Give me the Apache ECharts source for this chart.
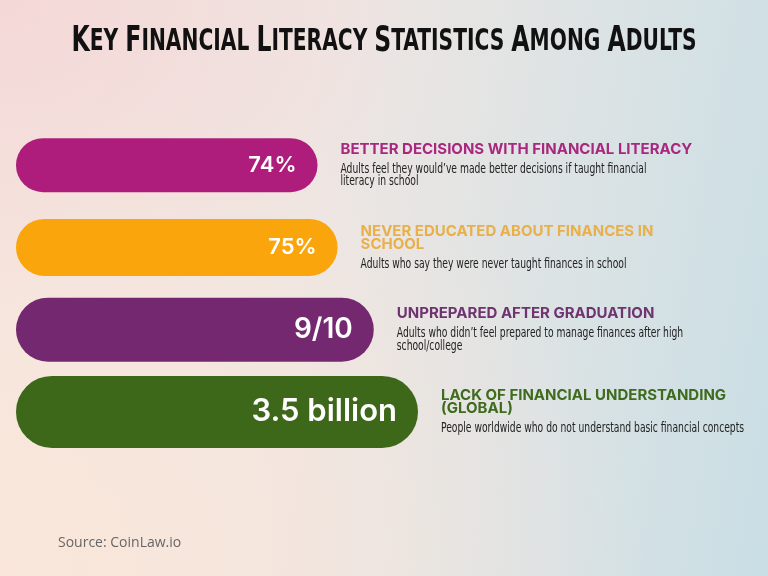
<!DOCTYPE html>
<html><head><meta charset="utf-8">
<script src="https://cdn.jsdelivr.net/npm/echarts@6/dist/echarts.min.js"></script>
<style>
html,body{margin:0;padding:0;}
#c{width:768px;height:576px;background:
 radial-gradient(ellipse at 0% 0%, rgba(243,214,214,0.9) 0%, rgba(243,214,214,0) 40%),
 radial-gradient(ellipse at 0% 100%, rgba(250,230,218,1) 0%, rgba(250,230,218,0) 60%),
 linear-gradient(100deg, #F6E6E0 0%, #EEE6E3 40%, #DDE3E4 68%, #C9DEE5 100%);}
</style></head><body><div id="c"></div>
<script>
const categories = ['Better decisions', 'Never educated', 'Unprepared', 'Lack of understanding'];
const barIndex = [75, 80, 89, 100];
const valueLabels = ['74%', '75%', '9/10', '3.5 billion'];
const headings = ['BETTER DECISIONS WITH FINANCIAL LITERACY', 'NEVER EDUCATED ABOUT FINANCES IN\nSCHOOL', 'UNPREPARED AFTER GRADUATION', 'LACK OF FINANCIAL UNDERSTANDING\n(GLOBAL)'];
const descriptions = ['Adults feel they would\u2019ve made better decisions if taught financial\nliteracy in school', 'Adults who say they were never taught finances in school', 'Adults who didn\u2019t feel prepared to manage finances after high\nschool/college', 'People worldwide who do not understand basic financial concepts'];
const titleText = 'Key Financial Literacy Statistics Among Adults';
const sourceText = 'Source: CoinLaw.io';

const barColors = ['#AE1D7B', '#F9A50B', '#732870', '#3D6719'];
const headColors = ['#A8287F', '#E9B04A', '#6E3470', '#3F6B1E'];
const barHeights = [54, 57, 64, 72];
const labelSizes = [22, 22, 28, 31];
const condFont = '"DejaVu Sans Condensed", "DejaVu Sans", sans-serif';
const headFont = 'Inter, "Noto Sans", sans-serif';

// title as small caps, horizontally compressed to look condensed
const titleWords = titleText.split(' ');
const titleRich = titleWords.map(w => '{b|' + w[0].toUpperCase() + '}{s|' + w.slice(1).toUpperCase() + '}').join('{s| }');
const mctx = document.createElement('canvas').getContext('2d');
function measure(txt, size) { mctx.font = 'bold ' + size + 'px "DejaVu Sans Condensed", "DejaVu Sans", sans-serif'; return mctx.measureText(txt).width; }
let titleW = 0;
titleWords.forEach((w, k) => { titleW += measure(w[0].toUpperCase(), 35) + measure(w.slice(1).toUpperCase(), 30); if (k) titleW += measure(' ', 30); });
const titleScale = 625 / titleW;

function renderItem(params, api) {
  const i = params.dataIndex;
  const v = api.value(0), c = api.value(1);
  const p0 = api.coord([0, c]);
  const p1 = api.coord([v, c]);
  const h = barHeights[i];
  const x0 = p0[0], x1 = p1[0], cy = p1[1];
  const hLines = headings[i].split('\n').length;
  const dLines = descriptions[i].split('\n').length;
  const headH = hLines * 13, gap = 7, descH = dLines * 12.5;
  const top = cy - (headH + gap + descH) / 2;
  return {
    type: 'group',
    children: [
      { type: 'rect', shape: { x: x0, y: cy - h / 2, width: x1 - x0, height: h, r: h / 2 }, style: { fill: barColors[i] } },
      { type: 'text', style: { x: x1 - 21, y: cy, text: valueLabels[i], fill: '#fff', fontFamily: headFont, fontWeight: 600, fontSize: labelSizes[i], align: 'right', verticalAlign: 'middle' } },
      { type: 'text', style: { x: x1 + 23, y: top, text: headings[i], fill: headColors[i], fontFamily: headFont, fontWeight: 700, fontSize: 15, lineHeight: 13, align: 'left', verticalAlign: 'top' } },
      { type: 'text', x: x1 + 23, y: top + headH + gap, scaleX: 0.73,
        style: { x: 0, y: 0, text: descriptions[i], fill: '#222', fontFamily: condFont, fontSize: 14, lineHeight: 12.5, align: 'left', verticalAlign: 'top' } }
    ]
  };
}

const chart = echarts.init(document.getElementById('c'), null, { renderer: 'canvas' });
chart.setOption({
  backgroundColor: 'transparent',
  animation: false,
  grid: { left: 16, right: 350, top: 124, bottom: 123 },
  xAxis: { type: 'value', min: 0, max: 100, show: false },
  yAxis: { type: 'category', data: categories, inverse: true, show: false },
  series: [{
    type: 'custom',
    renderItem: renderItem,
    encode: { x: 0, y: 1 },
    data: barIndex.map((v, i) => [v, i])
  }],
  graphic: [{
    type: 'text', x: 384, y: 42, scaleX: titleScale,
    style: {
      x: 0, y: 0, text: titleRich, align: 'center', verticalAlign: 'middle',
      rich: {
        b: { fontFamily: condFont, fontWeight: 'bold', fontSize: 35, fill: '#111', color: '#111' },
        s: { fontFamily: condFont, fontWeight: 'bold', fontSize: 30, fill: '#111', color: '#111' }
      }
    }
  }, {
    type: 'text', left: 58, top: 536,
    style: { text: sourceText, fontFamily: '"Open Sans", sans-serif', fontSize: 14, fill: '#666' }
  }]
});
</script></body></html>
